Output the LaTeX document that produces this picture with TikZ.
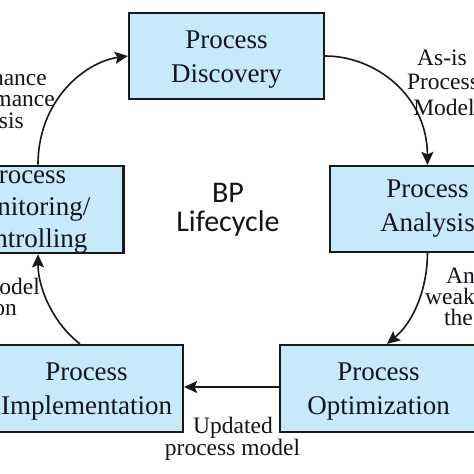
\documentclass[tikz,border=0pt]{standalone}
\usepackage{fontspec}
\setmainfont{Liberation Serif}
\newfontfamily\bpsans{Carlito}
\usetikzlibrary{arrows.meta}
\definecolor{boxblue}{RGB}{199,234,250}
\definecolor{edgecol}{RGB}{25,25,25}
\definecolor{txtcol}{RGB}{20,20,30}
\begin{document}
\begin{tikzpicture}[x=1pt,y=-1pt,
  box/.style={draw=edgecol, line width=2.2pt, fill=boxblue, inner sep=0pt,
    align=center, text=txtcol, font=\fontsize{27}{34}\selectfont},
  arr/.style={line width=1.6pt, draw=edgecol,
    -{Stealth[length=13pt,width=12pt,inset=2.5pt]}},
  lbl/.style={inner sep=0pt, text=txtcol, font=\fontsize{23.5}{22}\selectfont},
  bp/.style={inner sep=0pt, anchor=base, text=txtcol, font=\bpsans\fontsize{30}{30}\selectfont}]
\useasboundingbox (0,0) rectangle (474,474);
\clip (0,0) rectangle (474,474);
\fill[white] (0,0) rectangle (474,474);

% boxes
\node[box, minimum width=195pt, minimum height=86pt] (disc) at (226.5,56) {\rule{0pt}{24pt}Process\\Discovery};
\node[box, minimum width=195pt, minimum height=86pt] (anal) at (427.5,209) {Process\\Analysis};
\node[box, minimum width=197pt, minimum height=87pt, font=\fontsize{27}{32}\selectfont] (moni) at (25,209.5) {Process\\Monitoring/\\Controlling};
\node[box, minimum width=193pt, minimum height=87pt] (impl) at (86.5,388.5) {\rule{0pt}{23pt}Process\\Implementation};
\node[box, minimum width=197pt, minimum height=87pt] (opti) at (378.5,388.5) {\rule{0pt}{23pt}Process\\Optimization};

% centre title
\node[bp] (bp1) at (228,202) {BP};
\node[bp] (bp2) at (228,231) {Lifecycle};

% connectors
\draw[arr] ([xshift=13pt]moni.north) .. controls (38,100) and (85,62) .. (disc.west);
\draw[arr] (disc.east) .. controls (375,56) and (427,95) .. (anal.north);
\draw[arr] (anal.south) .. controls (427,295) and (410,325) .. ([xshift=8.5pt]opti.north);
\draw[arr] ([yshift=1.5pt]opti.west) -- ([yshift=1.5pt]impl.east);
\draw[arr] ([xshift=-6.5pt]impl.north) .. controls (55,325) and (38,290) .. ([xshift=13pt]moni.south);

% labels
\node[lbl, anchor=base east] (l1) at (47,85) {nance};
\node[lbl, anchor=base east] (l2) at (55,106) {mance};
\node[lbl, anchor=base east] (l3) at (24,128) {sis};

\node[lbl, anchor=base] (a1) at (442,65) {As-is};
\node[lbl, anchor=base] (a2) at (443,89) {Process};
\node[lbl, anchor=base] (a3) at (444,115) {Model};

\node[lbl, anchor=base west] (w1) at (446,283) {An};
\node[lbl, anchor=base west] (w2) at (425,304) {weak};
\node[lbl, anchor=base west] (w3) at (444,325) {the};

\node[lbl, anchor=base east] (o1) at (40,294) {odel};
\node[lbl, anchor=base east] (o2) at (17,315) {on};

\node[lbl, anchor=base] (u1) at (233,433) {Updated};
\node[lbl, anchor=base] (u2) at (232.5,455) {process model};
\end{tikzpicture}
\end{document}
